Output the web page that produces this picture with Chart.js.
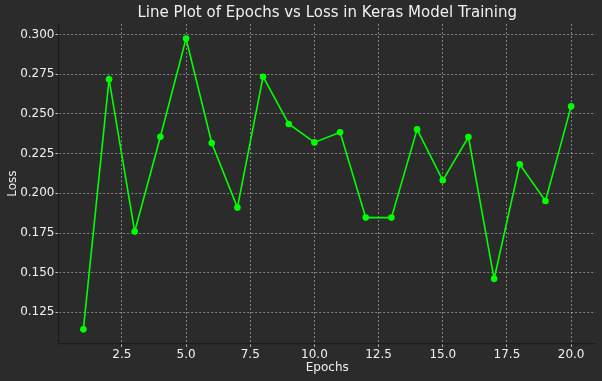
<!DOCTYPE html>
<html>
<head>
<meta charset="utf-8">
<title>Line Plot of Epochs vs Loss in Keras Model Training</title>
<script src="https://cdn.jsdelivr.net/npm/chart.js@4/dist/chart.umd.min.js"></script>
<style>
    html, body { margin: 0; padding: 0; background: #2b2b2b; }
    #wrap { width: 602px; height: 381px; }
</style>
</head>
<body>
<div id="wrap"><canvas id="lossChart" width="602" height="381"></canvas></div>
<script>
// 数据
const epochs = [1, 2, 3, 4, 5, 6, 7, 8, 9, 10, 11, 12, 13, 14, 15, 16, 17, 18, 19, 20];
const loss = [0.1143, 0.2719, 0.1759, 0.2357, 0.2975, 0.2317, 0.1910, 0.2735, 0.2437, 0.2321,
              0.2385, 0.1847, 0.1847, 0.2403, 0.2082, 0.2355, 0.1461, 0.2183, 0.1952, 0.2548];
const xTicks = [2.5, 5.0, 7.5, 10.0, 12.5, 15.0, 17.5, 20.0];
const yTicks = [0.125, 0.150, 0.175, 0.200, 0.225, 0.250, 0.275, 0.300];

const textColor = '#f0f0f0';
const gridColor = 'rgba(190, 190, 190, 0.6)';
const font = 'DejaVu Sans';

// 背景色
const bgPlugin = {
    id: 'bg',
    beforeDraw(chart) {
        const ctx = chart.ctx;
        ctx.save();
        ctx.fillStyle = '#2b2b2b';
        ctx.fillRect(0, 0, chart.width, chart.height);
        ctx.restore();
    }
};

function fixedTicks(list) {
    return function (scale) {
        scale.ticks = list.map(v => ({ value: v }));
    };
}

new Chart(document.getElementById('lossChart'), {
    type: 'line',
    data: {
        datasets: [{
            data: epochs.map((e, i) => ({ x: e, y: loss[i] })),
            borderColor: '#00ff00',
            backgroundColor: '#00ff00',
            borderWidth: 1.6,
            pointRadius: 3.3,
            pointBorderWidth: 0,
            tension: 0,
            fill: false
        }]
    },
    options: {
        responsive: false,
        animation: false,
        layout: { padding: { left: 0, right: 6.5, top: 0, bottom: 0 }, autoPadding: false },
        plugins: {
            legend: { display: false },
            tooltip: { enabled: false },
            title: {
                display: true,
                text: 'Line Plot of Epochs vs Loss in Keras Model Training',
                color: textColor,
                font: { family: font, size: 15, weight: 'normal' },
                fullSize: false,
                padding: { top: 4.5, bottom: 1.5 }
            }
        },
        scales: {
            x: {
                type: 'linear',
                min: 0.05,
                max: 20.95,
                afterBuildTicks: fixedTicks(xTicks),
                afterFit(scale) { scale.height = 37.7; },
                ticks: {
                    color: textColor,
                    font: { family: font, size: 12 },
                    padding: 0.5,
                    autoSkip: false,
                    maxRotation: 0,
                    callback: v => v.toFixed(1)
                },
                grid: {
                    color: gridColor,
                    tickColor: '#bdbdbd',
                    tickLength: 3.5,
                    tickBorderDash: [],
                    lineWidth: 1
                },
                border: { display: true, color: '#1c1c1c', width: 1.2, dash: [2, 2] },
                title: {
                    display: true,
                    text: 'Epochs',
                    color: textColor,
                    font: { family: font, size: 12 },
                    padding: { top: 0, bottom: 5.5 }
                }
            },
            y: {
                type: 'linear',
                min: 0.1055,
                max: 0.3067,
                afterBuildTicks: fixedTicks(yTicks),
                afterFit(scale) { scale.width = 59; },
                ticks: {
                    color: textColor,
                    font: { family: font, size: 12 },
                    padding: 1,
                    autoSkip: false,
                    callback: v => v.toFixed(3)
                },
                grid: {
                    color: gridColor,
                    tickColor: '#bdbdbd',
                    tickLength: 3.5,
                    tickBorderDash: [],
                    lineWidth: 1
                },
                border: { display: true, color: '#1c1c1c', width: 1.2, dash: [2, 2] },
                title: {
                    display: true,
                    text: 'Loss',
                    color: textColor,
                    font: { family: font, size: 12 },
                    padding: { top: 6, bottom: 0 }
                }
            }
        }
    },
    plugins: [bgPlugin]
});
</script>
</body>
</html>
